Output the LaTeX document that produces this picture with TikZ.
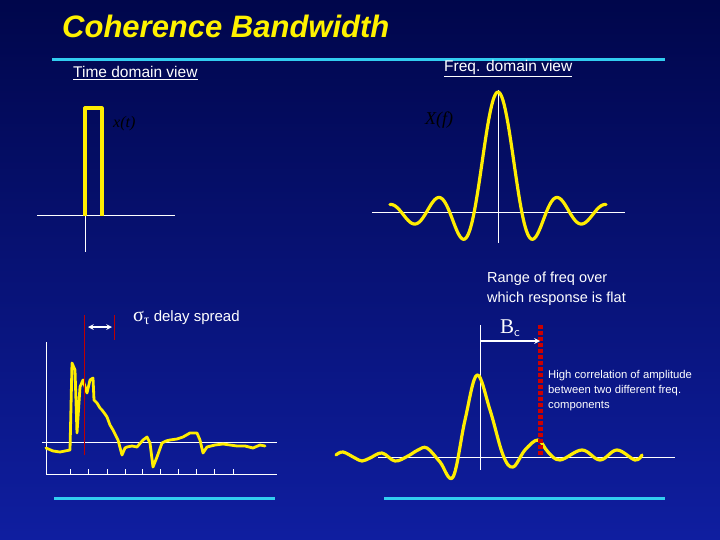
\documentclass[tikz,border=0pt]{standalone}
\usepackage{fontspec}
\setmainfont{Liberation Sans}
\newfontfamily\serifx{Liberation Serif}
\begin{document}
\begin{tikzpicture}[x=1pt,y=-1pt,
  ax/.style={white,line width=1pt},
  wave/.style={yellow!95!orange,line width=3.2pt,line join=round,line cap=round},
  cyanline/.style={color={rgb,255:red,50;green,205;blue,240},line width=3pt},
  redl/.style={red!75!black,line width=1pt},
  lbl/.style={inner sep=0pt,anchor=base west,text=white}]
\shade[top color={rgb,255:red,0;green,6;blue,75},bottom color={rgb,255:red,15;green,30;blue,160}] (0,0) rectangle (720,540);
\useasboundingbox (0,0) rectangle (720,540);
% title
\node[lbl,text=yellow,font=\fontsize{31}{33}\selectfont\bfseries\itshape] (title) at (62,38) {Coherence Bandwidth};
\draw[cyanline] (52,60) -- (665,60);
\node[lbl,font=\fontsize{15.5}{17}\selectfont] (tdv) at (73,78) {\underline{Time domain view}};
\node[lbl,font=\fontsize{15.5}{17}\selectfont] (fdv) at (444,72) {\underline{Freq. domain view}};
% top-left pulse
\draw[ax] (37,216) -- (175,216);
\draw[ax] (85,216) -- (85,252);
\draw[wave,line cap=butt] (85,216) -- (85,108) -- (102,108) -- (102,216);
\node[lbl,text=black,font=\serifx\itshape\fontsize{16}{18}\selectfont] (xt) at (113,128) {x(t)};
% top-right sinc
\draw[ax] (372,213) -- (625,213);
\draw[ax] (498,90) -- (498,243);
\draw[wave] plot[domain=-4.5:4.5,samples=180,smooth] ({498+24*\x},{213-121*sin(180*\x)/(pi*\x)});
\node[lbl,text=black,font=\serifx\itshape\fontsize{18}{20}\selectfont] (Xf) at (425,125) {X(f)};
% bottom-left impulse response
\draw[ax] (46,342) -- (46,474) -- (277,474);
\foreach \t in {70,88,107,125,142,160,178,196,214,233} \draw[white,line width=0.8pt] (\t,474) -- (\t,469);
\draw[ax] (42,442) -- (277,442);
\draw[wave,line width=2.8pt] plot coordinates {(46,448) (53,451) (60,452) (70,450) (72,363) (75,370) (77,433) (80,387) (83,380) (87,393) (90,380) (93,378) (94,400) (97,403) (100,408) (102,410) (105,414) (107,417) (110,425) (113,430) (116,436) (118,440) (122,455) (125,448) (127,447) (132,446) (137,447) (143,440) (147,437) (150,443) (153,467) (157,457) (162,443) (166,441) (170,440) (177,439) (183,437) (190,433) (197,433) (200,440) (203,453) (207,447) (215,445) (223,444) (230,445) (237,446) (245,446) (253,448) (260,445) (265,446)};
\draw[redl] (84,315) -- (84,455);
\draw[redl] (114,315) -- (114,340);
\coordinate (al) at (88,327); \coordinate (ar) at (112,327);
\draw[white,line width=1.5pt,<->,>=stealth] (al) -- (ar);
\node[lbl,font=\fontsize{15}{17}\selectfont] (ds) at (133,321) {{\serifx\fontsize{20}{20}\selectfont σ}\raisebox{-3pt}{\serifx\fontsize{14}{14}\selectfont τ} delay spread};
% bottom-right
\node[lbl,font=\fontsize{14.5}{16}\selectfont] (r1) at (487,282) {Range of freq over};
\node[lbl,font=\fontsize{14.5}{16}\selectfont] (r2) at (487,302) {which response is flat};
\draw[ax] (378,457) -- (675,457);
\draw[ax] (480,325) -- (480,470);
\draw[wave] plot[smooth,tension=0.6] coordinates {(336,455) (343,452) (355,458) (362,461) (370,458) (382,453) (395,461) (408,456) (418,450) (427,448) (440,462) (453,477) (465,420) (477,375) (490,410) (503,455) (513,467) (525,450) (538,440) (548,452) (560,460) (582,450) (600,460) (617,450) (635,460) (642,455)};
\draw[red!80!black,line width=5pt,dash pattern=on 4pt off 2pt] (540,325) -- (540,455);
\coordinate (b1) at (480,341); \coordinate (b2) at (540,341);
\draw[white,line width=1.5pt,-stealth] (b1) -- (b2);
\node[lbl,font=\serifx\fontsize{21}{22}\selectfont] (bc) at (500,333) {B\textsubscript{\sffamily\fontsize{13}{13}\selectfont c}};
\node[lbl,font=\fontsize{11.3}{15}\selectfont,align=left,anchor=north west] (hc) at (548,370) {High correlation of amplitude\\between two different freq.\\components};
\draw[cyanline] (384,498) -- (665,498);
\draw[cyanline] (54,498) -- (275,498);
\end{tikzpicture}
\end{document}
